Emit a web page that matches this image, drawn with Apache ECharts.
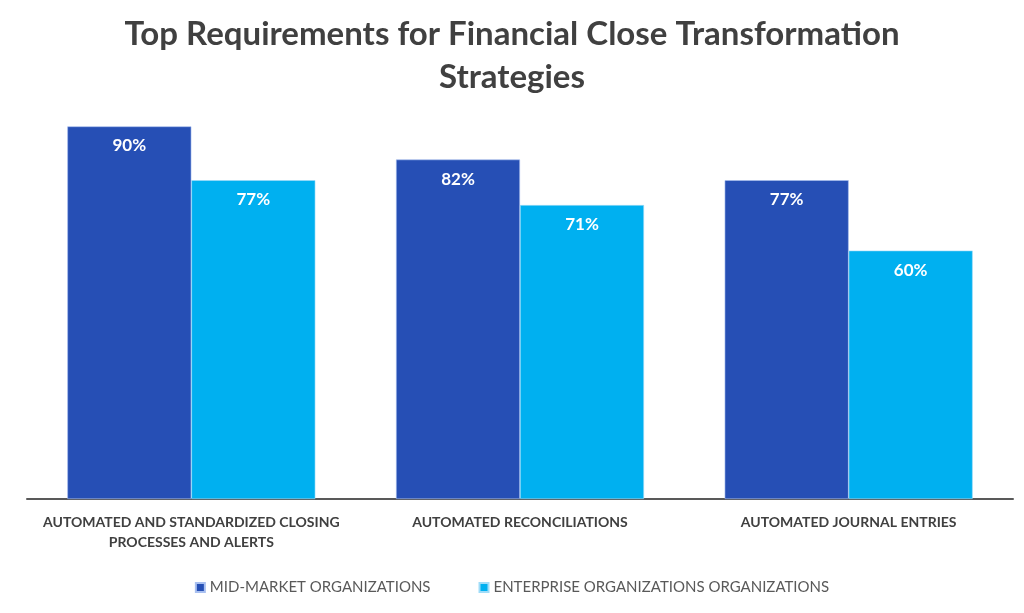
<!DOCTYPE html>
<html><head><meta charset="utf-8">
<script src="https://cdn.jsdelivr.net/npm/echarts@6/dist/echarts.min.js"></script>
<style>html,body{margin:0;padding:0;background:#fff}#c{width:1024px;height:613px}</style>
</head><body><div id="c"></div>
<script>
const categories = ['AUTOMATED AND STANDARDIZED CLOSING\nPROCESSES AND ALERTS', 'AUTOMATED RECONCILIATIONS', 'AUTOMATED JOURNAL ENTRIES'];
const seriesNames = ['MID-MARKET ORGANIZATIONS', 'ENTERPRISE ORGANIZATIONS ORGANIZATIONS'];
const midMarket = [90, 82, 77];
const enterprise = [77, 71, 60];
const titleText = 'Top Requirements for Financial Close Transformation\nStrategies';

const chart = echarts.init(document.getElementById('c'));
const font = 'Lato, "Open Sans", sans-serif';
chart.setOption({
  animation: false,
  title: {
    text: titleText, left: 'center', top: 8,
    textStyle: {fontFamily: font, fontSize: 33, fontWeight: 'bold', color: '#404040', lineHeight: 43}
  },
  legend: {
    bottom: 13, left: 'center', itemWidth: 9, itemHeight: 9, itemGap: 48, icon: 'rect',
    textStyle: {fontFamily: font, fontSize: 15, color: '#595959'},
    data: seriesNames
  },
  grid: {left: 27, right: 11, top: 85, bottom: 114, containLabel: false},
  xAxis: {
    type: 'category', data: categories,
    axisLine: {lineStyle: {color: '#595959', width: 2}},
    axisTick: {show: false},
    axisLabel: {fontFamily: font, fontSize: 14, fontWeight: 'bold', color: '#404040', margin: 13, lineHeight: 20, interval: 0}
  },
  yAxis: {type: 'value', min: 0, max: 100, show: false, splitLine: {show: false}},
  series: [
    {name: seriesNames[0], type: 'bar', data: midMarket, barWidth: 124, barGap: '0%',
     itemStyle: {color: '#264FB5', borderColor: '#A9C0F0', borderWidth: 0.6},
     label: {show: true, position: 'insideTop', distance: 11, formatter: '{c}%', color: '#fff', fontFamily: font, fontSize: 17, fontWeight: 'bold'}},
    {name: seriesNames[1], type: 'bar', data: enterprise, barWidth: 124, barGap: '0%',
     itemStyle: {color: '#00B0F0', borderColor: '#A0DCF8', borderWidth: 0.6},
     label: {show: true, position: 'insideTop', distance: 11, formatter: '{c}%', color: '#fff', fontFamily: font, fontSize: 17, fontWeight: 'bold'}}
  ]
});
</script></body></html>
